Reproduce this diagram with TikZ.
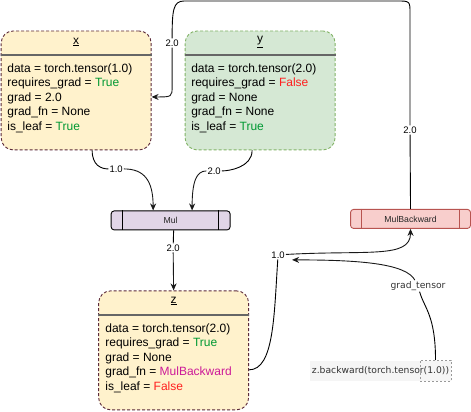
\documentclass[tikz,border=0pt]{standalone}
\usepackage{fontspec}
\setmainfont{Liberation Sans}
\newfontfamily\codefont{DejaVu Sans}
\usetikzlibrary{arrows.meta}

\definecolor{leaffill}{HTML}{FFF2CC}
\definecolor{leafline}{HTML}{5C2A3A}
\definecolor{constfill}{HTML}{D5E8D4}
\definecolor{constline}{HTML}{82B366}
\definecolor{mulfill}{HTML}{E1D5E7}
\definecolor{backfill}{HTML}{F8CECC}
\definecolor{backline}{HTML}{B85450}
\definecolor{tgreen}{HTML}{009933}
\definecolor{tred}{HTML}{FF1F1F}
\definecolor{tmagenta}{HTML}{CC1A99}
\definecolor{codegray}{HTML}{F5F5F5}

\begin{document}
\begin{tikzpicture}[x=1pt, y=-1pt,
    var/.style={draw, dash pattern=on 3pt off 2pt, line width=0.9pt, rounded corners=12pt,
      minimum width=150pt, minimum height=119pt, inner sep=0pt},
    sep/.style={draw=black!60, line width=1.5pt},
    title/.style={font=\fontsize{12}{14.5}\selectfont, inner sep=0pt},
    body/.style={font=\fontsize{12}{14.5}\selectfont, align=left, anchor=north west, inner sep=0pt},
    fn/.style={draw, line width=0.9pt, rounded corners=3pt, minimum height=19pt, inner sep=0pt,
      font=\fontsize{8.7}{10}\selectfont, text=black!85},
    lbl/.style={fill=white, inner sep=1pt, font=\fontsize{9.5}{11}\selectfont},
    flow/.style={line width=0.9pt, draw=black!90, -{Stealth[length=7pt, width=6pt]}}]
    \fill[white] (0,0) rectangle (471,412);

    \node[var, draw=leafline, fill=leaffill] (xvar) at (76,90.5) {};
    \draw[sep] (xvar.west |- 0,55) -- (xvar.east |- 0,55);
    \node[title] (xname) at (76,42) {\underline{x}};
    \node[body] (xtext) at (7,63.5) {data = torch.tensor(1.0)\\ requires\_grad = \textcolor{tgreen}{True}\\
      grad = 2.0\\ grad\_fn = None\\ is\_leaf = \textcolor{tgreen}{True}};

    \node[var, draw=constline, fill=constfill] (yvar) at (260,90.5) {};
    \draw[sep] (yvar.west |- 0,55) -- (yvar.east |- 0,55);
    \node[title] (yname) at (260,42) {\underline{y}};
    \node[body] (ytext) at (191,63.5) {data = torch.tensor(2.0)\\ requires\_grad = \textcolor{tred}{False}\\
      grad = None\\ grad\_fn = None\\ is\_leaf = \textcolor{tgreen}{True}};

    \node[var, draw=leafline, fill=leaffill] (zvar) at (173.5,350.5) {};
    \draw[sep] (zvar.west |- 0,315) -- (zvar.east |- 0,315);
    \node[title] (zname) at (173.5,301) {\underline{z}};
    \node[body] (ztext) at (105,323.5) {data = torch.tensor(2.0)\\ requires\_grad = \textcolor{tgreen}{True}\\
      grad = None\\ grad\_fn = \textcolor{tmagenta}{MulBackward}\\ is\_leaf = \textcolor{tred}{False}};

    \node[fn, fill=mulfill, minimum width=119pt] (mul) at (170.5,220.5) {Mul};
    \draw[line width=0.9pt] ([xshift=12pt]mul.north west) -- ([xshift=12pt]mul.south west);
    \draw[line width=0.9pt] ([xshift=-12pt]mul.north east) -- ([xshift=-12pt]mul.south east);

    \node[fn, draw=backline, fill=backfill, minimum width=120pt] (mulb) at (410.5,219) {MulBackward};
    \draw[line width=0.9pt, backline] ([xshift=11.5pt]mulb.north west) -- ([xshift=11.5pt]mulb.south west);
    \draw[line width=0.9pt, backline] ([xshift=-11.5pt]mulb.north east) -- ([xshift=-11.5pt]mulb.south east);

    \node[fill=codegray, minimum width=141pt, minimum height=20pt, inner sep=0pt,
      font=\codefont\fontsize{9.2}{11}\selectfont, text=black!80] (call) at (380.5,371) {z.backward(torch.tensor(1.0))};
    \node[draw=black!40, dash pattern=on 2pt off 2pt, line width=0.7pt, minimum width=31pt, minimum height=21pt,
      inner sep=0pt] (arg) at (435.5,371) {};

    \node[lbl] (xl) at (116,169) {1.0};
    \node[lbl] (yl) at (214,171) {2.0};
    \node[lbl] (ml) at (173,248) {2.0};
    \node[lbl] (zl) at (278,255) {1.0};
    \node[lbl] (bl) at (410,130) {2.0};
    \node[lbl] (tl) at (172,43) {2.0};
    \node[lbl, font=\codefont\fontsize{9.2}{11}\selectfont, text=black!80] (gl) at (418,286) {grad\_tensor};
    \coordinate (gin) at (292,260);

    \draw[line width=0.9pt] ([xshift=16pt]xvar.south) .. controls +(0,15) and +(-15,0) .. (xl);
    \draw[flow] (xl) .. controls +(28,0) and +(0,-30) .. ([xshift=-17.5pt]mul.north);
    \draw[line width=0.9pt] ([xshift=-8pt]yvar.south) .. controls +(0,17) and +(15,0) .. (yl);
    \draw[flow] (yl) .. controls +(-18,0) and +(0,-28) .. ([xshift=21.5pt]mul.north);
    \draw[line width=0.9pt] (mul.south -| zvar.north) -- (ml);
    \draw[flow] (ml) -- (zvar.north);

    \draw[line width=0.9pt] (zvar.east |- 0,370) .. controls +(25,0) and +(-4,60) .. (zl);
    \draw[flow] (zl) .. controls +(90,-5) and +(0,30) .. (mulb.south);
    \draw[line width=0.9pt] (arg.north) .. controls +(0,-45) and +(6,22) .. (gl);
    \draw[flow] (gl) .. controls +(-12,-22) and +(70,0) .. (gin);

    \draw[line width=0.9pt] (mulb.north) -- (bl);
    \draw[line width=0.9pt] (bl) -- (410,14) .. controls (410,1) .. (397,1) -- (184,1)
      .. controls (173,1) and (172,10) .. (tl);
    \draw[flow] (tl) -- (172,86) .. controls (172,97) .. (xvar.east |- 0,97);
\end{tikzpicture}
\end{document}
